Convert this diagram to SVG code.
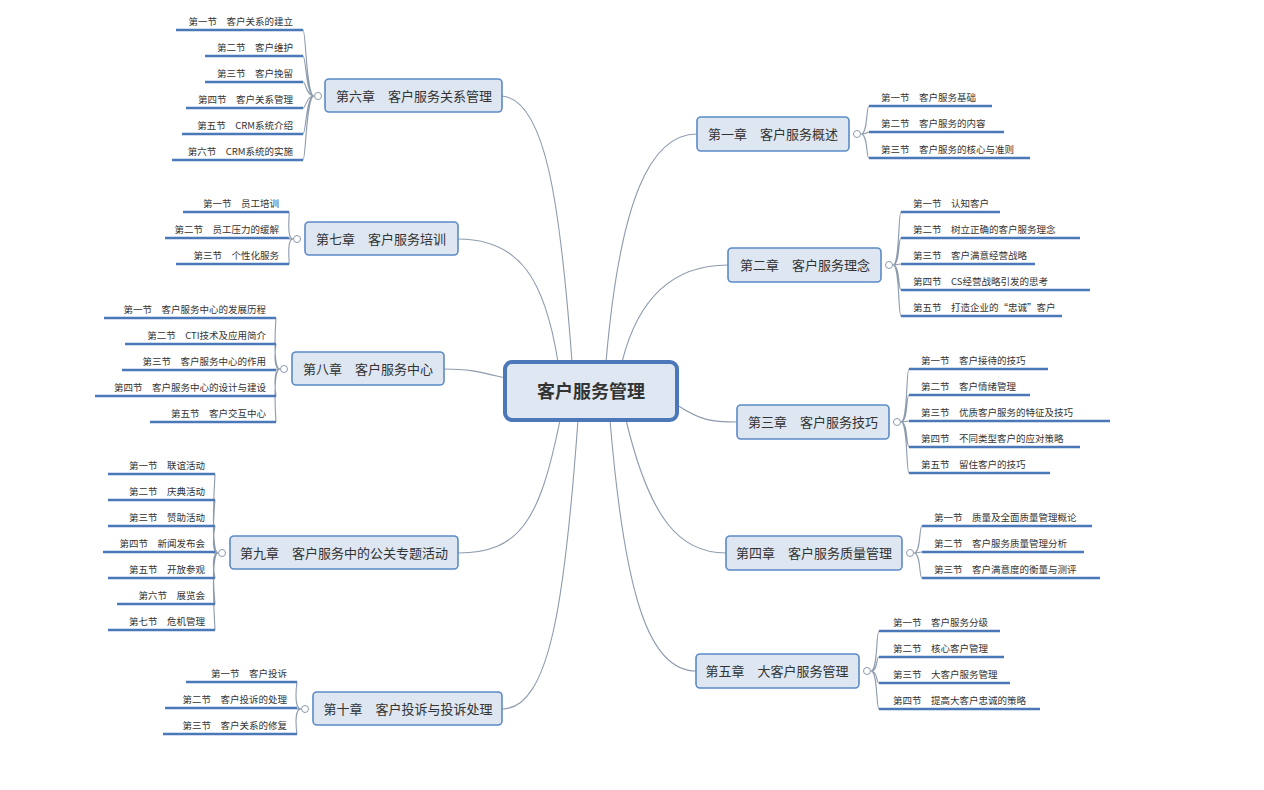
<svg xmlns="http://www.w3.org/2000/svg" width="1264" height="790" viewBox="0 0 1264 790">
<style>
text{font-family:"Noto Sans CJK SC","Liberation Sans",sans-serif;fill:#333}
.ch{fill:#dde6f1;stroke:#5b8ac6;stroke-width:1.6}
.ct{font-size:13px;text-anchor:middle}
.s{font-size:9.5px}
.l{text-anchor:end}
.u{stroke:#4a78b8;stroke-width:2.4}
.c{fill:none;stroke:#8d9bae;stroke-width:1.1}
.o{fill:#fff;stroke:#8d9bae;stroke-width:1}
</style>
<rect width="1264" height="790" fill="#fff"/>
<g id="connectors" class="c">
<path d="M572,362 C560,200 545,100 502,96"/>
<path d="M558,362 C545,280 520,239 458,239"/>
<path d="M505,378 C480,372 470,369 444,369"/>
<path d="M560,420 C540,520 520,553 458,553"/>
<path d="M578,420 C565,600 550,709 502,709"/>
<path d="M606,362 C620,200 650,134 697,134"/>
<path d="M622,362 C640,290 680,265 728,265"/>
<path d="M677,405 C700,420 710,422 737,422"/>
<path d="M626,420 C650,520 680,553 726,553"/>
<path d="M610,420 C625,600 650,671 696,671"/>
<!-- ch6 -->
<path d="M314,96 C306,96 306,30 303,30 M314,96 C306,96 306,56 303,56 M314,96 C306,96 306,82 303,82 M314,96 C306,96 306,108 303,108 M314,96 C306,96 306,134 303,134 M314,96 C306,96 306,160 303,160"/>
<path d="M293,239 C286,239 290,212 289,212 M293,239 C286,239 290,238 289,238 M293,239 C286,239 290,264 289,264"/>
<path d="M280,369 C272,369 276,318 276,318 M280,369 C272,369 276,344 276,344 M280,369 C272,369 276,370 276,370 M280,369 C272,369 276,396 276,396 M280,369 C272,369 276,422 276,422"/>
<path d="M218,553 C210,553 215,474 215,474 M218,553 C210,553 215,500 215,500 M218,553 C210,553 215,526 215,526 M218,553 C210,553 215,552 215,552 M218,553 C210,553 215,578 215,578 M218,553 C210,553 215,604 215,604 M218,553 C210,553 215,630 215,630"/>
<path d="M301,709 C293,709 297,682 297,682 M301,709 C293,709 297,708 297,708 M301,709 C293,709 297,734 297,734"/>
<path d="M861,134 C868,134 866,106 869,106 M861,134 C868,134 866,132 869,132 M861,134 C868,134 866,158 869,158"/>
<path d="M893,265 C900,265 898,212 901,212 M893,265 C900,265 898,238 901,238 M893,265 C900,265 898,264 901,264 M893,265 C900,265 898,290 901,290 M893,265 C900,265 898,316 901,316"/>
<path d="M901,422 C908,422 906,369 909,369 M901,422 C908,422 906,395 909,395 M901,422 C908,422 906,421 909,421 M901,422 C908,422 906,447 909,447 M901,422 C908,422 906,473 909,473"/>
<path d="M914,553 C921,553 919,526 922,526 M914,553 C921,553 919,552 922,552 M914,553 C921,553 919,578 922,578"/>
<path d="M871,671 C878,671 876,631 879,631 M871,671 C878,671 876,657 879,657 M871,671 C878,671 876,683 879,683 M871,671 C878,671 876,709 879,709"/>
</g>
<g id="center">
<rect x="505" y="362" width="172" height="58" rx="7" fill="#dfe7f2" stroke="#4a78b8" stroke-width="4"/>
<text x="591" y="398" font-size="18" font-weight="bold" text-anchor="middle">客户服务管理</text>
</g>
<g id="ch6"><rect class="ch" x="325" y="79" width="177" height="33" rx="4"/><text class="ct" x="414" y="101">第六章　客户服务关系管理</text><circle class="o" cx="318" cy="96" r="3.5"/>
<g class="s l"><text class="s l" x="293" y="25">第一节　客户关系的建立</text><text class="s l" x="293" y="51">第二节　客户维护</text><text class="s l" x="293" y="77">第三节　客户挽留</text><text class="s l" x="293" y="103">第四节　客户关系管理</text><text class="s l" x="293" y="129">第五节　CRM系统介绍</text><text class="s l" x="293" y="155">第六节　CRM系统的实施</text></g>
<g class="u"><line x1="176" y1="30" x2="303" y2="30"/><line x1="205" y1="56" x2="303" y2="56"/><line x1="205" y1="82" x2="303" y2="82"/><line x1="186" y1="108" x2="303" y2="108"/><line x1="182" y1="134" x2="303" y2="134"/><line x1="172" y1="160" x2="303" y2="160"/></g></g>
<g id="ch7"><rect class="ch" x="305" y="222" width="153" height="33" rx="4"/><text class="ct" x="381" y="244">第七章　客户服务培训</text><circle class="o" cx="297" cy="239" r="3.5"/>
<text class="s l" x="279" y="207">第一节　员工培训</text><text class="s l" x="279" y="233">第二节　员工压力的缓解</text><text class="s l" x="279" y="259">第三节　个性化服务</text>
<g class="u"><line x1="183" y1="212" x2="289" y2="212"/><line x1="165" y1="238" x2="289" y2="238"/><line x1="176" y1="264" x2="289" y2="264"/></g></g>
<g id="ch8"><rect class="ch" x="292" y="352" width="152" height="33" rx="4"/><text class="ct" x="368" y="374">第八章　客户服务中心</text><circle class="o" cx="284" cy="369" r="3.5"/>
<text class="s l" x="266" y="313">第一节　客户服务中心的发展历程</text><text class="s l" x="266" y="339">第二节　CTI技术及应用简介</text><text class="s l" x="266" y="365">第三节　客户服务中心的作用</text><text class="s l" x="266" y="391">第四节　客户服务中心的设计与建设</text><text class="s l" x="266" y="417">第五节　客户交互中心</text>
<g class="u"><line x1="104" y1="318" x2="276" y2="318"/><line x1="125" y1="344" x2="276" y2="344"/><line x1="122" y1="370" x2="276" y2="370"/><line x1="95" y1="396" x2="276" y2="396"/><line x1="150" y1="422" x2="276" y2="422"/></g></g>
<g id="ch9"><rect class="ch" x="230" y="536" width="228" height="33" rx="4"/><text class="ct" x="344" y="558">第九章　客户服务中的公关专题活动</text><circle class="o" cx="222" cy="553" r="3.5"/>
<text class="s l" x="205" y="469">第一节　联谊活动</text><text class="s l" x="205" y="495">第二节　庆典活动</text><text class="s l" x="205" y="521">第三节　赞助活动</text><text class="s l" x="205" y="547">第四节　新闻发布会</text><text class="s l" x="205" y="573">第五节　开放参观</text><text class="s l" x="205" y="599">第六节　展览会</text><text class="s l" x="205" y="625">第七节　危机管理</text>
<g class="u"><line x1="108" y1="474" x2="215" y2="474"/><line x1="108" y1="500" x2="215" y2="500"/><line x1="108" y1="526" x2="215" y2="526"/><line x1="103" y1="552" x2="215" y2="552"/><line x1="108" y1="578" x2="215" y2="578"/><line x1="117" y1="604" x2="215" y2="604"/><line x1="108" y1="630" x2="215" y2="630"/></g></g>
<g id="ch10"><rect class="ch" x="313" y="692" width="189" height="33" rx="4"/><text class="ct" x="408" y="714">第十章　客户投诉与投诉处理</text><circle class="o" cx="305" cy="709" r="3.5"/>
<text class="s l" x="287" y="677">第一节　客户投诉</text><text class="s l" x="287" y="703">第二节　客户投诉的处理</text><text class="s l" x="287" y="729">第三节　客户关系的修复</text>
<g class="u"><line x1="186" y1="682" x2="297" y2="682"/><line x1="165" y1="708" x2="297" y2="708"/><line x1="163" y1="734" x2="297" y2="734"/></g></g>
<g id="ch1"><rect class="ch" x="697" y="117" width="152" height="34" rx="4"/><text class="ct" x="773" y="139">第一章　客户服务概述</text><circle class="o" cx="857" cy="134" r="3.5"/>
<text class="s" x="881" y="101">第一节　客户服务基础</text><text class="s" x="881" y="127">第二节　客户服务的内容</text><text class="s" x="881" y="153">第三节　客户服务的核心与准则</text>
<g class="u"><line x1="869" y1="106" x2="992" y2="106"/><line x1="869" y1="132" x2="1004" y2="132"/><line x1="869" y1="158" x2="1030" y2="158"/></g></g>
<g id="ch2"><rect class="ch" x="728" y="248" width="153" height="34" rx="4"/><text class="ct" x="805" y="270">第二章　客户服务理念</text><circle class="o" cx="889" cy="265" r="3.5"/>
<text class="s" x="913" y="207">第一节　认知客户</text><text class="s" x="913" y="233">第二节　树立正确的客户服务理念</text><text class="s" x="913" y="259">第三节　客户满意经营战略</text><text class="s" x="913" y="285">第四节　CS经营战略引发的思考</text><text class="s" x="913" y="311">第五节　打造企业的“忠诚”客户</text>
<g class="u"><line x1="901" y1="212" x2="1000" y2="212"/><line x1="901" y1="238" x2="1080" y2="238"/><line x1="901" y1="264" x2="1035" y2="264"/><line x1="901" y1="290" x2="1090" y2="290"/><line x1="901" y1="316" x2="1062" y2="316"/></g></g>
<g id="ch3"><rect class="ch" x="737" y="405" width="152" height="34" rx="4"/><text class="ct" x="813" y="427">第三章　客户服务技巧</text><circle class="o" cx="897" cy="422" r="3.5"/>
<text class="s" x="921" y="364">第一节　客户接待的技巧</text><text class="s" x="921" y="390">第二节　客户情绪管理</text><text class="s" x="921" y="416">第三节　优质客户服务的特征及技巧</text><text class="s" x="921" y="442">第四节　不同类型客户的应对策略</text><text class="s" x="921" y="468">第五节　留住客户的技巧</text>
<g class="u"><line x1="909" y1="369" x2="1048" y2="369"/><line x1="909" y1="395" x2="1030" y2="395"/><line x1="909" y1="421" x2="1110" y2="421"/><line x1="909" y1="447" x2="1080" y2="447"/><line x1="909" y1="473" x2="1050" y2="473"/></g></g>
<g id="ch4"><rect class="ch" x="726" y="536" width="176" height="34" rx="4"/><text class="ct" x="814" y="558">第四章　客户服务质量管理</text><circle class="o" cx="910" cy="553" r="3.5"/>
<text class="s" x="934" y="521">第一节　质量及全面质量管理概论</text><text class="s" x="934" y="547">第二节　客户服务质量管理分析</text><text class="s" x="934" y="573">第三节　客户满意度的衡量与测评</text>
<g class="u"><line x1="922" y1="526" x2="1092" y2="526"/><line x1="922" y1="552" x2="1084" y2="552"/><line x1="922" y1="578" x2="1100" y2="578"/></g></g>
<g id="ch5"><rect class="ch" x="696" y="654" width="163" height="34" rx="4"/><text class="ct" x="777" y="676">第五章　大客户服务管理</text><circle class="o" cx="867" cy="671" r="3.5"/>
<text class="s" x="893" y="626">第一节　客户服务分级</text><text class="s" x="893" y="652">第二节　核心客户管理</text><text class="s" x="893" y="678">第三节　大客户服务管理</text><text class="s" x="893" y="704">第四节　提高大客户忠诚的策略</text>
<g class="u"><line x1="879" y1="631" x2="1000" y2="631"/><line x1="879" y1="657" x2="1004" y2="657"/><line x1="879" y1="683" x2="1010" y2="683"/><line x1="879" y1="709" x2="1040" y2="709"/></g></g>
</svg>
